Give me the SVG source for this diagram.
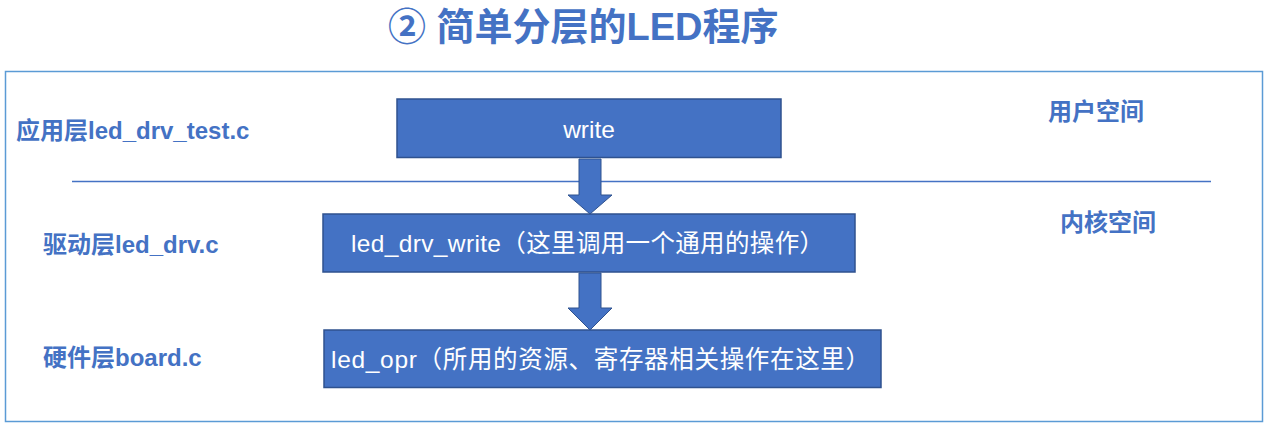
<svg xmlns="http://www.w3.org/2000/svg" width="1269" height="428" viewBox="0 0 1269 428">
<style>
.lbl{font-family:"Liberation Sans","Noto Sans CJK SC",sans-serif;font-weight:bold;fill:#4472C4;font-size:24px}
.box{fill:#4472C4;stroke:#2F528F;stroke-width:1.5}
.bt{font-family:"Liberation Sans","Noto Sans CJK SC",sans-serif;fill:#FFFFFF;font-size:24.5px}
.arr{fill:#4472C4;stroke:#2F528F;stroke-width:1}
</style>
<rect width="1269" height="428" fill="#FFFFFF"/>
<text id="title" x="388" y="40" class="lbl" style="font-size:38px">② 简单分层的LED程序</text>
<rect id="frame" x="5.5" y="71.5" width="1257" height="350" fill="none" stroke="#5B9BD5" stroke-width="1.5"/>
<line id="divider" x1="72" y1="181.5" x2="1211" y2="181.5" stroke="#4472C4" stroke-width="1.5"/>
<g id="label-app"><text x="16" y="139" class="lbl">应用层led_drv_test.c</text></g>
<g id="label-drv"><text x="43" y="253" class="lbl">驱动层led_drv.c</text></g>
<g id="label-board"><text x="43" y="366" class="lbl">硬件层board.c</text></g>
<g id="label-user"><text x="1048" y="120" class="lbl">用户空间</text></g>
<g id="label-kernel"><text x="1060" y="231" class="lbl">内核空间</text></g>
<g id="node-write">
<rect x="397" y="99" width="384" height="58.5" class="box"/>
<text x="589" y="138" class="bt" text-anchor="middle">write</text>
</g>
<g id="node-led-drv-write">
<rect x="323" y="214" width="532" height="58" class="box"/>
<text x="351" y="252" class="bt" textLength="473" lengthAdjust="spacing">led_drv_write（这里调用一个通用的操作）</text>
</g>
<g id="node-led-opr">
<rect x="324" y="330" width="557" height="57.5" class="box"/>
<text x="331" y="368" class="bt" textLength="539" lengthAdjust="spacing">led_opr（所用的资源、寄存器相关操作在这里）</text>
</g>
<g id="connectors">
<path class="arr" d="M579,159 H601 V195 H612 L590,214 L568,195 H579 Z"/>
<path class="arr" d="M579,273 H601 V308 H612 L590,330 L568,308 H579 Z"/>
</g>
</svg>
